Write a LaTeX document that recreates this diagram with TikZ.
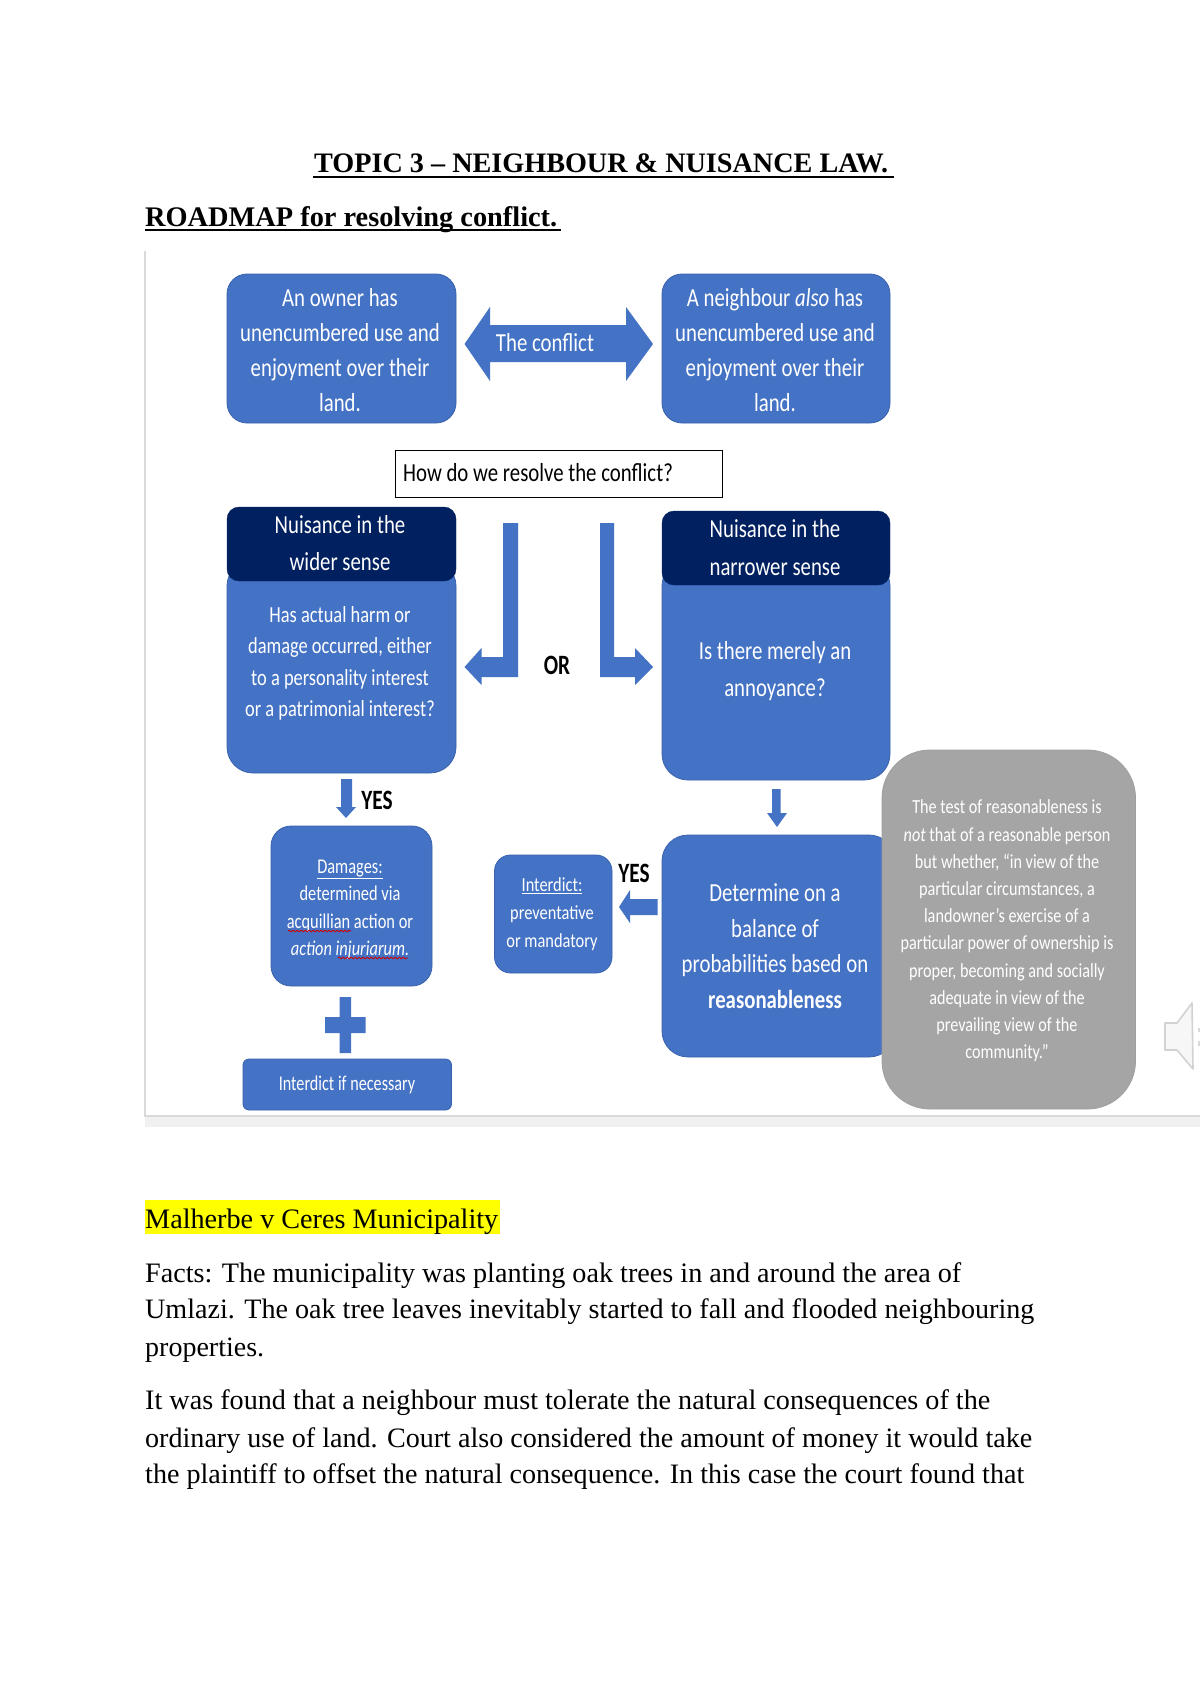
\documentclass[tikz,border=0pt]{standalone}
\usepackage{fontspec}
\setmainfont{Liberation Serif}
\newfontfamily\carl{Carlito}
\usetikzlibrary{decorations.pathmorphing}
\definecolor{blu}{HTML}{4472C4}
\definecolor{blb}{HTML}{3A62AC}
\definecolor{nvy}{HTML}{002060}
\definecolor{gry}{HTML}{A5A5A5}
\definecolor{ylw}{HTML}{FFFF00}
\newcommand{\fw}[2]{\resizebox{#1pt}{!}{#2}}
\newcommand{\ulin}[1]{\underline{#1}}
\tikzset{
  x=1pt,y=-1pt,
  bbox/.style={draw=blb,line width=.8pt,fill=blu,rounded corners=#1},
  bbox/.default=20pt,
  hdr/.style={draw=nvy,fill=nvy,rounded corners=12pt},
  arr/.style={fill=blu,draw=none},
  ctext/.style={text=white,align=center,inner sep=0,font=\carl\fontsize{#1}{#1}\selectfont},
  sq/.style={xscale=#1,transform shape},
  doc/.style={anchor=base west,inner sep=0,text=black},
  ylab/.style={inner sep=0,text=black,font=\carl\bfseries\fontsize{28}{28}\selectfont,xscale=.76,transform shape},
  squig/.style={draw=red!80!black,line width=.9pt,decorate,decoration={snake,amplitude=.8pt,segment length=4pt}},
}
\begin{document}
\begin{tikzpicture}
\useasboundingbox (0,0) rectangle (1200,1696);
\fill[white] (0,0) rectangle (1200,1696);
% page text
\node[anchor=base west,inner sep=0] (title) at (314,173) {\fw{574}{\bfseries TOPIC 3 -- NEIGHBOUR \& NUISANCE LAW.}};
\draw[line width=1.8pt] (313,177) -- (894,177);
\node[doc] (road) at (145,227) {\fw{412}{\bfseries ROADMAP for resolving conflict.}};
\draw[line width=1.8pt] (145,230) -- (561,230);
% frame
\fill[gray!12] (145,1117) rectangle (1200,1127);
\draw[gray!30,line width=1.2pt] (145,251) -- (145,1116) -- (1200,1116);
% top boxes
\draw[bbox] (227,274) rectangle (456,423);
\node[ctext=26,sq=.8,font=\carl\fontsize{26}{35}\selectfont] (owner) at (340,350) {An owner has\\unencumbered use and\\enjoyment over their\\land.};
\draw[bbox] (662,274) rectangle (890,423);
\node[ctext=26,sq=.8,font=\carl\fontsize{26}{35}\selectfont] (nbr) at (775,350) {A neighbour \textit{also} has\\unencumbered use and\\enjoyment over their\\land.};
% double arrow
\fill[arr] (464.5,344) -- (490,307) -- (490,325) -- (626,325) -- (626,307) -- (653,344) -- (626,381) -- (626,362) -- (490,362) -- (490,381) -- cycle;
\node[ctext=26,sq=.8] (conflict) at (545,343) {The conflict};
% question
\node[draw=black,line width=1pt,fill=white,minimum width=327.5pt,minimum height=47pt,inner sep=0] (how) at (558.75,473.5) {};
\node[anchor=west,inner sep=0,font=\carl\fontsize{26}{26}\selectfont,xscale=.8,transform shape] (howt) at (403,473) {How do we resolve the conflict?};
% left column
\draw[bbox=26pt] (227,560) rectangle (456,773);
\draw[hdr] (227,507) rectangle (456,581);
\node[ctext=25,sq=.8,font=\carl\fontsize{26}{37}\selectfont] (wide) at (340,543) {Nuisance in the\\wider sense};
\node[ctext=23,sq=.8,font=\carl\fontsize{23}{31.5}\selectfont] (harm) at (340,663.5) {Has actual harm or\\damage occurred, either\\to a personality interest\\or a patrimonial interest?};
% right column
\draw[bbox=26pt] (662,560) rectangle (890,780);
\draw[hdr] (662,511) rectangle (890,585);
\node[ctext=25,sq=.8,font=\carl\fontsize{26}{37.5}\selectfont] (narrow) at (775,547.5) {Nuisance in the\\narrower sense};
\node[ctext=26,sq=.8,font=\carl\fontsize{26}{37}\selectfont] (ann) at (775,671) {Is there merely an\\annoyance?};
% bent arrows
\fill[arr] (503,523) -- (518,523) -- (518,677) -- (481.5,677) -- (481.5,685) -- (464.5,667) -- (481.5,648) -- (481.5,657) -- (503,657) -- cycle;
\fill[arr] (614,523) -- (600,523) -- (600,677) -- (635,677) -- (635,685) -- (653,667) -- (635,648) -- (635,657) -- (614,657) -- cycle;
\node[ylab] (or) at (557,665) {OR};
% down arrow 1
\fill[arr] (341,779) -- (352,779) -- (352,807) -- (356,807) -- (346,818) -- (336,807) -- (341,807) -- cycle;
\node[ylab] (yes1) at (377,800) {YES};
% damages
\draw[bbox=20pt] (271,826) rectangle (432,986);
\node[ctext=21,sq=.78,font=\carl\fontsize{21}{27.4}\selectfont] (dam) at (350,909.5) {\ulin{Damages:}\\determined via\\acquillian action or\\\textit{action injuriarum.}};
\draw[squig] (288,931) -- (351,931);
\draw[squig] (338,958) -- (408,958);
% plus
\fill[arr] (339.5,997) -- (351,997) -- (351,1017) -- (365.5,1017) -- (365.5,1033) -- (351,1033) -- (351,1053) -- (339.5,1053) -- (339.5,1033) -- (325,1033) -- (325,1017) -- (339.5,1017) -- cycle;
% interdict if necessary
\draw[bbox=6pt] (243,1059) rectangle (451.5,1110);
\node[ctext=21,sq=.77] (int) at (347,1085) {Interdict if necessary};
% interdict
\draw[bbox=16pt] (494.5,855) rectangle (612,973);
\node[ctext=20,sq=.82,font=\carl\fontsize{20}{28}\selectfont] (intd) at (552,914.5) {\ulin{Interdict:}\\preventative\\or mandatory};
\node[ylab] (yes2) at (634,873) {YES};
% left arrow
\fill[arr] (619,907) -- (630,890) -- (630,899) -- (657.6,899) -- (657.6,915) -- (630,915) -- (630,923) -- cycle;
% down arrow 2
\fill[arr] (772,789) -- (780.5,789) -- (780.5,813) -- (787,813) -- (777,827) -- (767,813) -- (772,813) -- cycle;
% determine
\draw[bbox=26pt] (662,835) rectangle (895,1057);
\node[ctext=26,sq=.8,font=\carl\fontsize{26}{35.5}\selectfont] (det) at (775,946) {Determine on a\\balance of\\probabilities based on\\\textbf{reasonableness}};
% grey
\draw[draw=gray!75,line width=.8pt,fill=gry,rounded corners=48pt] (882,750) rectangle (1135.5,1109);
\node[ctext=20,sq=.81,font=\carl\fontsize{20}{27.2}\selectfont] (test) at (1007,931) {The test of reasonableness is\\\textit{not} that of a reasonable person\\but whether, “in view of the\\particular circumstances, a\\landowner’s exercise of a\\particular power of ownership is\\proper, becoming and socially\\adequate in view of the\\prevailing view of the\\community.”};
% speaker
\draw[draw=gray!35,line width=1.6pt,fill=gray!6,line join=round] (1165,1023) -- (1177,1023) -- (1192,1003) -- (1193,1069) -- (1177,1050) -- (1165,1050) -- cycle;
\draw[gray!30,line width=1.2pt] (1199,1028) -- (1199,1032) (1199,1041) -- (1199,1046);
% body
\fill[ylw] (145,1200) rectangle (500,1234);
\node[doc] (case) at (145,1228) {\fw{353}{Malherbe v Ceres Municipality}};
\node[doc] (f1) at (145,1282) {\fw{816}{Facts: The municipality was planting oak trees in and around the area of}};
\node[doc] (f2) at (145,1318) {\fw{889}{Umlazi. The oak tree leaves inevitably started to fall and flooded neighbouring}};
\node[doc] (f3) at (145,1356) {\fw{119}{properties.}};
\node[doc] (f4) at (145,1409) {\fw{845}{It was found that a neighbour must tolerate the natural consequences of the}};
\node[doc] (f5) at (145,1447) {\fw{887}{ordinary use of land. Court also considered the amount of money it would take}};
\node[doc] (f6) at (145,1483) {\fw{879}{the plaintiff to offset the natural consequence. In this case the court found that}};
\end{tikzpicture}
\end{document}
